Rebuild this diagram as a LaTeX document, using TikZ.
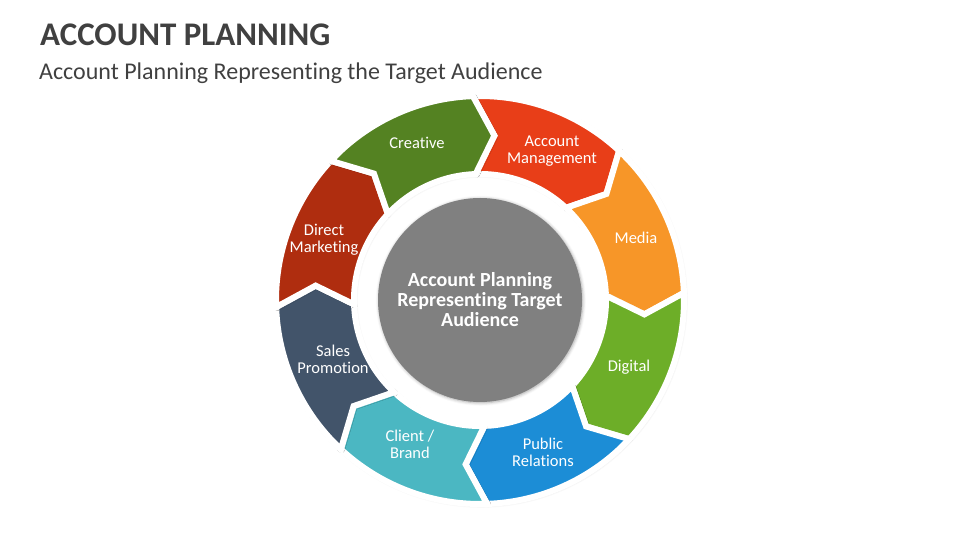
\documentclass[tikz,border=0pt]{standalone}
\usepackage{fontspec}
\setmainfont{Carlito}[Ligatures=NoCommon]
\usetikzlibrary{shadows.blur}
\definecolor{cCreative}{RGB}{84,130,34}
\definecolor{cAM}{RGB}{232,62,24}
\definecolor{cMedia}{RGB}{247,150,40}
\definecolor{cDigital}{RGB}{109,174,40}
\definecolor{cPR}{RGB}{28,141,214}
\definecolor{cCB}{RGB}{75,183,194}
\definecolor{cSP}{RGB}{66,84,106}
\definecolor{cDM}{RGB}{175,45,15}
\definecolor{cCenter}{RGB}{128,128,128}
\definecolor{cTitle}{RGB}{64,64,64}
\tikzset{
  segstyle/.style={fill=#1, draw=white, line width=6pt, line join=miter,
    blur shadow={shadow xshift=0.8pt, shadow yshift=-0.8pt, shadow blur radius=3pt, shadow opacity=35}},
  lbl/.style={text=white, font=\fontsize{16.5}{17}\selectfont, align=center, inner sep=0pt},
  ctr/.style={circle, fill=cCenter, minimum size=204pt, text=white, align=center,
    font=\bfseries\fontsize{20}{20}\selectfont,
    blur shadow={shadow xshift=0.8pt, shadow yshift=-0.8pt, shadow blur radius=3pt, shadow opacity=35}},
}
\newcommand\ringseg[2]{%
  \pgfmathsetmacro\sa{#2}\pgfmathsetmacro\ea{#2-45}%
  \path[segstyle=#1, shift={(480,240)}] (\sa:204) arc[start angle=\sa, end angle=\ea, radius=204]
    -- ({\ea-7}:165) -- (\ea:126) arc[start angle=\ea, end angle=\sa, radius=126]
    -- ({\sa-7}:165) -- cycle;}
\begin{document}
\begin{tikzpicture}[x=1pt,y=1pt]
\useasboundingbox (0,0) rectangle (960,540);
\node[anchor=base west, inner sep=0pt, text=cTitle, font=\bfseries\fontsize{33}{36}\selectfont] (title) at (40,494) {ACCOUNT PLANNING};
\node[anchor=base west, inner sep=0pt, text=cTitle, font=\fontsize{24}{28}\selectfont] (subtitle) at (39,460) {Account Planning Representing the Target Audience};
\ringseg{cAM}{92}
\ringseg{cMedia}{47}
\ringseg{cDigital}{2}
\ringseg{cPR}{-43}
\ringseg{cCB}{-88}
\ringseg{cSP}{-133}
\ringseg{cDM}{-178}
\ringseg{cCreative}{-223}
\node[ctr] (center) at (480,240) {Account Planning\\Representing Target\\Audience};
\node[lbl] (creative) at (417,397) {Creative};
\node[lbl] (am) at (552,389) {Account\\Management};
\node[lbl] (media) at (636,302) {Media};
\node[lbl] (digital) at (629,173) {Digital};
\node[lbl] (pr) at (543,88) {Public\\Relations};
\node[lbl] (cb) at (410,96) {Client /\\Brand};
\node[lbl] (sp) at (333,181) {Sales\\Promotion};
\node[lbl] (dm) at (324,300) {Direct\\Marketing};
\end{tikzpicture}
\end{document}
